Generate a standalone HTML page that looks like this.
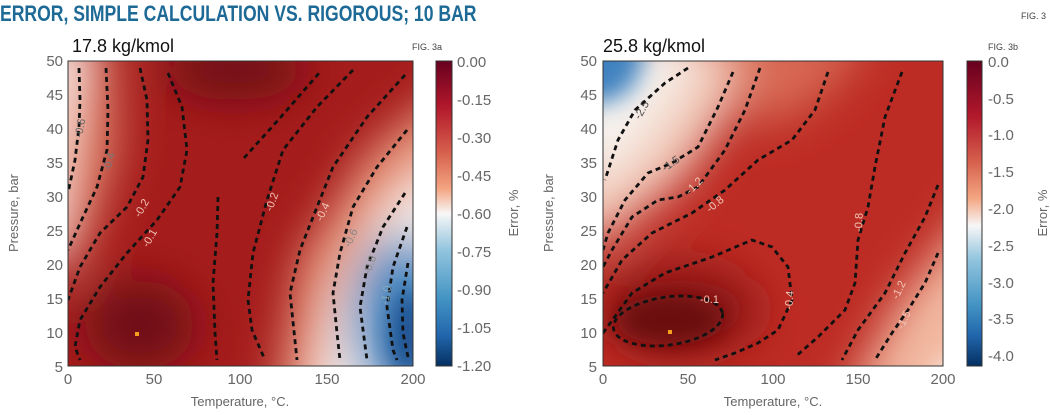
<!DOCTYPE html>
<html><head><meta charset="utf-8"><style>
body{margin:0;background:#fff;width:1050px;height:410px;overflow:hidden}
svg text{font-family:"Liberation Sans",sans-serif}
</style></head><body>
<svg width="1050" height="410" viewBox="0 0 1050 410" xmlns="http://www.w3.org/2000/svg">
<defs>
<filter id="b" x="-50%" y="-50%" width="200%" height="200%"><feGaussianBlur stdDeviation="22"/></filter>
<filter id="b2" x="-50%" y="-50%" width="200%" height="200%"><feGaussianBlur stdDeviation="12"/></filter>
<clipPath id="c1"><rect x="68" y="61" width="345" height="305"/></clipPath>
<clipPath id="c2"><rect x="603" y="61" width="340" height="305"/></clipPath>
<linearGradient id="cb" x1="0" y1="0" x2="0" y2="1">
<stop offset="0" stop-color="#67001f"/><stop offset="0.15" stop-color="#b2182b"/><stop offset="0.3" stop-color="#d6604d"/><stop offset="0.42" stop-color="#f4a582"/><stop offset="0.5" stop-color="#f7f7f7"/><stop offset="0.62" stop-color="#92c5de"/><stop offset="0.78" stop-color="#4393c3"/><stop offset="0.9" stop-color="#2166ac"/><stop offset="1" stop-color="#053061"/>
</linearGradient>
<linearGradient id="cb2" x1="0" y1="0" x2="0" y2="1">
<stop offset="0" stop-color="#67001f"/><stop offset="0.18" stop-color="#b2182b"/><stop offset="0.33" stop-color="#d6604d"/><stop offset="0.45" stop-color="#f4a582"/><stop offset="0.54" stop-color="#f7f7f7"/><stop offset="0.65" stop-color="#92c5de"/><stop offset="0.8" stop-color="#4393c3"/><stop offset="0.9" stop-color="#2166ac"/><stop offset="1" stop-color="#053061"/>
</linearGradient>
</defs>

<text x="0" y="21" font-size="22" font-weight="bold" fill="#1d6a96" transform="scale(0.8,1)">ERROR, SIMPLE CALCULATION VS. RIGOROUS; 10 BAR</text>
<text x="1021" y="19" font-size="9" fill="#444">FIG. 3</text>

<!-- LEFT PANEL -->
<g clip-path="url(#c1)">
<rect x="68" y="61" width="345" height="305" fill="#a51c1c"/>
<g filter="url(#b)">
<polygon points="30,30 88,30 92,120 82,200 60,260 30,260" fill="#fbf0ea"/>
<polygon points="90,30 115,40 122,150 95,230 60,300 60,150" fill="#e5876a" opacity="0.7"/>
<ellipse cx="140" cy="325" rx="55" ry="45" fill="#6e0a12"/>
<ellipse cx="235" cy="70" rx="70" ry="30" fill="#6e0a12"/>
<polygon points="460,80 460,430 270,430 300,260 370,150" fill="#e99a7e"/>
<polygon points="460,150 460,430 310,430 335,300 385,210" fill="#f5f1ee"/>
<ellipse cx="405" cy="320" rx="55" ry="85" fill="#4a8cc4"/>
</g>
<g filter="url(#b2)"><ellipse cx="408" cy="335" rx="18" ry="45" fill="#1d4f8f"/></g>
<g fill="none" stroke="#111" stroke-width="2.8" stroke-dasharray="5,4">
<polyline points="79,68 80,100 79,127 75,160 68,193"/>
<polyline points="106,68 108,110 107,150 97,187 83,217 68,250"/>
<polyline points="140,68 147,100 148,140 143,177 127,207 100,233 80,267 68,300"/>
<polyline points="168,73 182,107 187,150 180,187 157,220 127,253 100,287 80,320 75,347 80,360"/>
<polyline points="218,197 217,233 213,283 215,333 217,360"/>
<polyline points="244,158 280,118 320,72"/>
<polyline points="353,70 317,107 283,150 267,200 253,253 248,300 252,330 265,360"/>
<polyline points="405,75 367,117 333,167 317,207 300,250 290,293 297,360"/>
<polyline points="407,130 377,167 353,207 340,253 333,293 337,333 340,360"/>
<polyline points="405,193 383,227 367,267 360,307 367,360"/>
<polyline points="407,227 393,267 387,307 393,350 397,360"/>
<polyline points="408,263 402,300 403,333 408,357"/>
</g>
<g font-size="11" fill="#f2c8b8">
<text x="82" y="138" transform="rotate(-80 82 138)" fill="#666">-0.6</text>
<text x="110" y="172" transform="rotate(-75 110 172)" fill="#777">-0.4</text>
<text x="140" y="218" transform="rotate(-60 140 218)">-0.2</text>
<text x="148" y="248" transform="rotate(-60 148 248)">-0.1</text>
<text x="272" y="212" transform="rotate(-70 272 212)">-0.2</text>
<text x="322" y="222" transform="rotate(-65 322 222)">-0.4</text>
<text x="350" y="248" transform="rotate(-65 350 248)" fill="#888">-0.6</text>
<text x="370" y="275" transform="rotate(-70 370 275)" fill="#888">-0.8</text>
<text x="388" y="305" transform="rotate(-80 388 305)" fill="#8ab">-1.0</text>
</g>
<rect x="135" y="332" width="4" height="4" fill="#f6a020"/>
</g>
<rect x="68" y="61" width="345" height="305" fill="none" stroke="#333" stroke-width="1"/>
<text x="72" y="52" font-size="18" fill="#111">17.8 kg/kmol</text>
<text x="412" y="50" font-size="9" fill="#444">FIG. 3a</text>
<g font-size="15" fill="#666" text-anchor="end">
<text x="63" y="66">50</text><text x="63" y="100">45</text><text x="63" y="134">40</text><text x="63" y="168">35</text><text x="63" y="202">30</text><text x="63" y="236">25</text><text x="63" y="270">20</text><text x="63" y="304">15</text><text x="63" y="338">10</text><text x="63" y="372">5</text>
</g>
<g font-size="15" fill="#666" text-anchor="middle">
<text x="68" y="384">0</text><text x="154" y="384">50</text><text x="240" y="384">100</text><text x="327" y="384">150</text><text x="413" y="384">200</text>
</g>
<text x="240" y="406" font-size="13" fill="#666" text-anchor="middle">Temperature, °C.</text>
<text transform="translate(18,213) rotate(-90)" font-size="13" fill="#666" text-anchor="middle">Pressure, bar</text>
<rect x="436" y="61" width="16" height="305" fill="url(#cb)" stroke="#333" stroke-width="1"/>
<g font-size="15" fill="#666">
<text x="457" y="67">0.00</text><text x="457" y="105">-0.15</text><text x="457" y="143">-0.30</text><text x="457" y="181">-0.45</text><text x="457" y="219">-0.60</text><text x="457" y="257">-0.75</text><text x="457" y="295">-0.90</text><text x="457" y="333">-1.05</text><text x="457" y="371">-1.20</text>
</g>
<text transform="translate(518,213) rotate(-90)" font-size="13" fill="#666" text-anchor="middle">Error, %</text>

<!-- RIGHT PANEL -->
<g clip-path="url(#c2)">
<rect x="603" y="61" width="340" height="305" fill="#bd2c24"/>
<g filter="url(#b)">
<polygon points="560,30 760,30 730,110 680,180 600,240 560,240" fill="#f3d0c0"/>
<polygon points="570,30 700,30 665,100 610,170 570,170" fill="#f7f5f2"/>
<polygon points="700,30 880,30 820,100 760,130" fill="#e3836a" opacity="0.7"/>
<polygon points="990,190 990,410 840,410 900,300" fill="#f2b8a0"/>
<ellipse cx="680" cy="310" rx="80" ry="45" fill="#8a1218"/>
</g>
<g filter="url(#b2)">
<ellipse cx="598" cy="55" rx="45" ry="48" fill="#3f82c0"/>
<ellipse cx="670" cy="320" rx="55" ry="25" fill="#6a0810"/>
<polygon points="990,320 990,410 895,410" fill="#fbeee8"/>
</g>
<g fill="none" stroke="#111" stroke-width="2.8" stroke-dasharray="5,4">
<polyline points="688,68 665,83 635,110 618,140 605,180"/>
<polyline points="733,72 718,107 698,147 672,163 648,173 625,200 608,233 603,250"/>
<polyline points="760,68 745,110 725,150 698,187 678,197 658,200 632,217 612,250 603,267"/>
<polyline points="828,72 815,110 792,140 758,160 725,190 692,213 652,233 622,260 603,293"/>
<polyline points="603,333 632,293 665,273 712,257 752,240 772,247 788,267 792,300 778,330 758,343 735,353 715,360"/>
<ellipse cx="668" cy="321" rx="55" ry="24" transform="rotate(-8 668 321)"/>
<polyline points="902,72 885,117 875,167 868,207 858,240 855,283 845,310 818,337 795,357"/>
<polyline points="938,185 925,217 905,253 885,293 858,330 842,360"/>
<polyline points="938,253 925,283 908,310 892,333 875,360"/>
</g>
<g font-size="11" fill="#f2c8b8">
<text x="640" y="120" transform="rotate(-60 640 120)" fill="#444">-2.5</text>
<text x="665" y="172" transform="rotate(-35 665 172)" fill="#555">-1.5</text>
<text x="690" y="195" transform="rotate(-45 690 195)">-1.2</text>
<text x="710" y="213" transform="rotate(-40 710 213)">-0.8</text>
<text x="700" y="303">-0.1</text>
<text x="792" y="310" transform="rotate(-85 792 310)">-0.4</text>
<text x="862" y="232" transform="rotate(-88 862 232)">-0.8</text>
<text x="898" y="300" transform="rotate(-65 898 300)">-1.2</text>
<text x="903" y="330" transform="rotate(-65 903 330)">-1.5</text>
</g>
<rect x="668" y="330" width="4" height="4" fill="#f6a020"/>
</g>
<rect x="603" y="61" width="340" height="305" fill="none" stroke="#333" stroke-width="1"/>
<text x="603" y="52" font-size="18" fill="#111">25.8 kg/kmol</text>
<text x="988" y="50" font-size="9" fill="#444">FIG. 3b</text>
<g font-size="15" fill="#666" text-anchor="end">
<text x="597" y="66">50</text><text x="597" y="100">45</text><text x="597" y="134">40</text><text x="597" y="168">35</text><text x="597" y="202">30</text><text x="597" y="236">25</text><text x="597" y="270">20</text><text x="597" y="304">15</text><text x="597" y="338">10</text><text x="597" y="372">5</text>
</g>
<g font-size="15" fill="#666" text-anchor="middle">
<text x="603" y="384">0</text><text x="688" y="384">50</text><text x="773" y="384">100</text><text x="858" y="384">150</text><text x="943" y="384">200</text>
</g>
<text x="773" y="406" font-size="13" fill="#666" text-anchor="middle">Temperature, °C.</text>
<text transform="translate(553,213) rotate(-90)" font-size="13" fill="#666" text-anchor="middle">Pressure, bar</text>
<rect x="967" y="61" width="15" height="305" fill="url(#cb2)" stroke="#333" stroke-width="1"/>
<g font-size="15" fill="#666">
<text x="988" y="67">0.0</text><text x="988" y="104">-0.5</text><text x="988" y="140">-1.0</text><text x="988" y="177">-1.5</text><text x="988" y="214">-2.0</text><text x="988" y="251">-2.5</text><text x="988" y="288">-3.0</text><text x="988" y="324">-3.5</text><text x="988" y="361">-4.0</text>
</g>
<text transform="translate(1047,213) rotate(-90)" font-size="13" fill="#666" text-anchor="middle">Error, %</text>
</svg>
</body></html>
